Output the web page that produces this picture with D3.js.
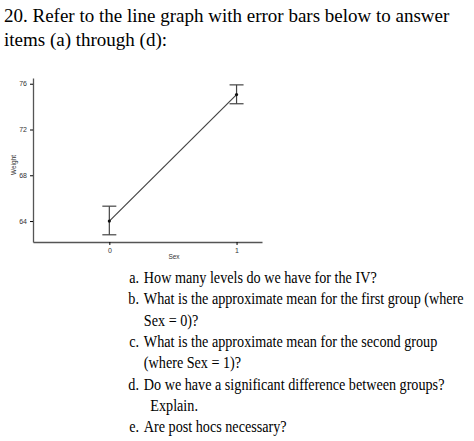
<!DOCTYPE html>
<html><head><meta charset="utf-8">
<script src="https://cdn.jsdelivr.net/npm/d3@7"></script>
<style>body{margin:0;background:#fff}</style>
</head><body>
<script>
// data
var sexLevels = [0, 1];
var meanWeight = [64.0, 75.05];
var errLow = [62.8, 74.25];
var errHigh = [65.3, 75.9];
var yTicks = [64, 68, 72, 76];

var svg = d3.select("body").append("svg").attr("width", 474).attr("height", 441);
var serif = "'Liberation Serif', 'DejaVu Serif', serif";

var header = ["20.  Refer to the line graph with error bars below to answer", "items (a) through (d):"];
svg.selectAll(".hd").data(header).enter().append("text")
  .attr("x", 4).attr("y", function (d, i) { return 22 + i * 24; })
  .style("font-family", serif).style("font-size", "19px").text(function (d) { return d; });

var x = d3.scaleLinear().domain([-0.6, 1.2]).range([33, 262]);
var y = d3.scaleLinear().domain([62.17, 76.5]).range([242, 78]);

var g = svg.append("g").style("font-family", "Arial, sans-serif");
g.append("g").attr("transform", "translate(0,242)")
  .call(d3.axisBottom(x).tickValues(sexLevels).tickFormat(d3.format("d")).tickSize(3).tickSizeOuter(0))
  .call(function (a) { a.selectAll("text").style("font-size", "7px").attr("fill", "#333"); a.select(".domain").attr("stroke", "#555").attr("stroke-width", 1.3); });
g.append("g").attr("transform", "translate(33,0)")
  .call(d3.axisLeft(y).tickValues(yTicks).tickSize(3).tickSizeOuter(0))
  .call(function (a) { a.selectAll("text").style("font-size", "7px").attr("fill", "#333"); a.select(".domain").attr("stroke", "#555").attr("stroke-width", 1.3); });
g.append("text").attr("x", 174).attr("y", 259).attr("text-anchor", "middle").style("font-size", "6.5px").attr("fill", "#333").text("Sex");
g.append("text").attr("transform", "translate(16,165) rotate(-90)").attr("text-anchor", "middle").style("font-size", "6.5px").attr("fill", "#333").text("Weight");

var pts = sexLevels.map(function (s, i) { return { s: s, m: meanWeight[i], lo: errLow[i], hi: errHigh[i] }; });
g.append("path").datum(pts).attr("fill", "none").attr("stroke", "#444").attr("stroke-width", 1.2)
  .attr("d", d3.line().x(function (d) { return x(d.s); }).y(function (d) { return y(d.m); }));
var eb = g.selectAll(".eb").data(pts).enter().append("g").attr("stroke", "#444").attr("stroke-width", 1.2);
eb.append("line").attr("x1", function (d) { return x(d.s); }).attr("x2", function (d) { return x(d.s); })
  .attr("y1", function (d) { return y(d.lo); }).attr("y2", function (d) { return y(d.hi); });
[ "lo", "hi" ].forEach(function (k) {
  eb.append("line").attr("x1", function (d) { return x(d.s) - 7; }).attr("x2", function (d) { return x(d.s) + 7; })
    .attr("y1", function (d) { return y(d[k]); }).attr("y2", function (d) { return y(d[k]); });
});
g.selectAll(".pt").data(pts).enter().append("circle").attr("cx", function (d) { return x(d.s); })
  .attr("cy", function (d) { return y(d.m); }).attr("r", 1.6).attr("fill", "#111");

var qs = [
  ["a.", "How many levels do we have for the IV?", 0],
  ["b.", "What is the approximate mean for the first group (where", 0],
  ["", "Sex = 0)?", 1],
  ["c.", "What is the approximate mean for the second group", 0],
  ["", "(where Sex = 1)?", 1],
  ["d.", "Do we have a significant difference between groups?", 0],
  ["", "Explain.", 2],
  ["e.", "Are post hocs necessary?", 0]
];
var qg = svg.append("g");
var q = qg.selectAll(".q").data(qs).enter().append("g")
  .attr("transform", function (d, i) { return "translate(0," + (283 + i * 21.3) + ")"; })
  .style("font-family", serif).style("font-size", "17.5px");
q.append("text").attr("x", 0).attr("text-anchor", "end").text(function (d) { return d[0]; });
var body = q.append("text").attr("x", function (d) { return d[2] === 2 ? 14 : 6; }).text(function (d) { return d[1]; });
var maxW = 0;
body.each(function () { maxW = Math.max(maxW, this.getComputedTextLength() + 6); });
var sx = Math.min(1, (470 - 145) / maxW);
qg.attr("transform", "translate(139,0) scale(" + sx + ",1)");
</script>
</body></html>
